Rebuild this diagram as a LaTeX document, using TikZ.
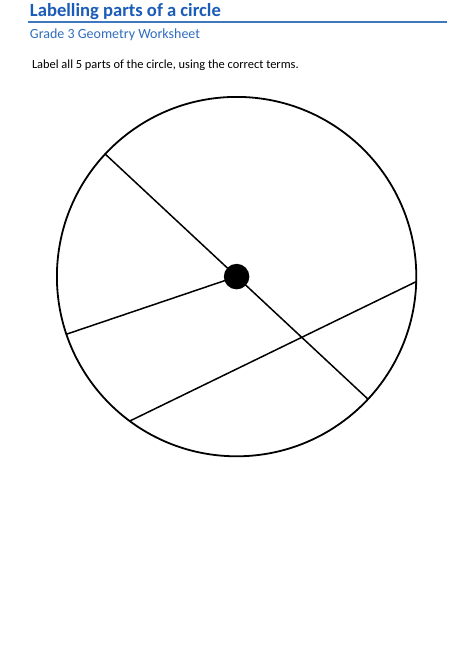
\documentclass[tikz,border=0pt]{standalone}
\usepackage{fontspec}
\setmainfont{Carlito}
\usetikzlibrary{calc}
\definecolor{titleblue}{RGB}{26,92,184}
\definecolor{subblue}{RGB}{47,109,191}
\definecolor{ruleblue}{RGB}{63,119,192}
\begin{document}
\begin{tikzpicture}[x=1pt,y=-1pt,
  txt/.style={anchor=base west,inner sep=0pt,outer sep=0pt},
  geo/.style={line width=1.5pt,black}]
\useasboundingbox[fill=white] (0,0) rectangle (474,670);
% header
\node[txt,text=titleblue,font=\fontsize{18.6}{20}\selectfont\bfseries] (title) at (30,16) {Labelling parts of a circle};
\draw[ruleblue,line width=1.7pt] (28,22) coordinate (rl) -- (447,22) coordinate (rr);
\node[txt,text=subblue,font=\fontsize{14}{16}\selectfont] (sub) at (30,38) {Grade 3 Geometry Worksheet};
\node[txt,text=black,font=\fontsize{12.4}{14}\selectfont] (instr) at (32,68.5) {Label all 5 parts of the circle, using the correct terms.};
% circle (angles measured with y pointing down)
\coordinate (c) at (236.6,276.6);
\def\R{179.7}
\coordinate (d1) at ($(c)+(-137:\R)$);
\coordinate (d2) at ($(c)+(43:\R)$);
\coordinate (r1) at ($(c)+(161.3:\R)$);
\coordinate (ch1) at ($(c)+(126.5:\R)$);
\coordinate (ch2) at ($(c)+(1.6:\R)$);
\draw[geo] (d1) -- (d2);
\draw[geo] (c) -- (r1);
\draw[geo] (ch1) -- (ch2);
\draw[geo,line width=1.8pt] (c) circle[radius=\R];
\node[circle,fill=black,inner sep=0pt,minimum size=25.5pt] (dot) at (c) {};
\end{tikzpicture}
\end{document}
